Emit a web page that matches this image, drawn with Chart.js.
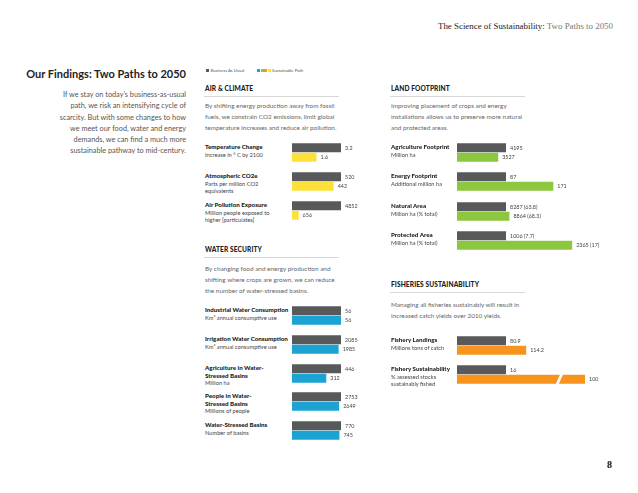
<!DOCTYPE html>
<html>
<head>
<meta charset="utf-8">
<script src="https://cdn.jsdelivr.net/npm/chart.js@4.4.1/dist/chart.umd.min.js"></script>
<style>
  html, body { margin: 0; padding: 0; background: #fff; }
  #page { position: relative; width: 638px; height: 493px; overflow: hidden; font-family: Lato, "Open Sans", sans-serif; color: #333; }
  .t { position: absolute; white-space: nowrap; }
  .hdr { font-family: "Liberation Serif", "DejaVu Serif", serif; font-size: 8.9px; right: 25px; top: 21px; color: #222; }
  .hdr span { color: #777; }
  .title { font-size: 11px; font-weight: 700; right: 452px; top: 67px; color: #222; }
  .intro { right: 452px; top: 89px; text-align: right; font-size: 7.3px; line-height: 11.3px; color: #555; }
  .sec { font-size: 6.6px; font-weight: 900; color: #222; letter-spacing: 0.1px; }
  .rule { position: absolute; height: 0; border-top: 0.6px solid #d8d8d8; }
  .desc { font-size: 6.4px; line-height: 11px; color: #666; }
  .lab { font-size: 5.7px; line-height: 7.7px; color: #444; }
  .lab b { color: #222; font-weight: 900; font-size: 6.2px; }
  .legend { font-size: 4.3px; color: #555; top: 68px; }
  .sq { display: inline-block; width: 3px; height: 3px; margin-right: 0.5px; vertical-align: 0px; }
  .pg { font-family: "Liberation Serif", serif; font-weight: 700; font-size: 10px; left: 607px; top: 459px; color: #111; }
  .box { position: absolute; }
</style>
</head>
<body>
<div id="page">
  <div class="t hdr">The Science of Sustainability: <span>Two Paths to 2050</span></div>
  <div class="t title">Our Findings: Two Paths to 2050</div>
  <div class="t intro">If we stay on today’s business-as-usual<br>path, we risk an intensifying cycle of<br>scarcity. But with some changes to how<br>we meet our food, water and energy<br>demands, we can find a much more<br>sustainable pathway to mid-century.</div>

  <div class="t legend" style="left:206px;"><span class="sq" style="background:#58595b"></span> Business As Usual</div>
  <div class="t legend" style="left:257px;"><span class="sq" style="background:#1ba4d3"></span><span class="sq" style="background:#8dc63f"></span><span class="sq" style="background:#f7941d"></span><span class="sq" style="background:#fde13a"></span> Sustainable Path</div>

  <div class="t sec" style="left:205px; top:84px;">AIR &amp; CLIMATE</div>
  <div class="rule" style="left:204px; top:96px; width:135px;"></div>
  <div class="t desc" style="left:205px; top:100px;">By shifting energy production away from fossil<br>fuels, we constrain CO2 emissions, limit global<br>temperature increases and reduce air pollution.</div>

  <div class="t sec" style="left:205px; top:245px;">WATER SECURITY</div>
  <div class="rule" style="left:204px; top:257px; width:135px;"></div>
  <div class="t desc" style="left:205px; top:263px;">By changing food and energy production and<br>shifting where crops are grown, we can reduce<br>the number of water-stressed basins.</div>

  <div class="t sec" style="left:391px; top:84px;">LAND FOOTPRINT</div>
  <div class="rule" style="left:390px; top:96px; width:135px;"></div>
  <div class="t desc" style="left:391px; top:100px;">Improving placement of crops and energy<br>installations allows us to preserve more natural<br>and protected areas.</div>

  <div class="t sec" style="left:391px; top:280px;">FISHERIES SUSTAINABILITY</div>
  <div class="rule" style="left:390px; top:292px; width:135px;"></div>
  <div class="t desc" style="left:391px; top:299px;">Managing all fisheries sustainably will result in<br>increased catch yields over 2010 yields.</div>

  <div class="t pg">8</div>
</div>
<script>
// Air & Climate
const airCategories = [['Temperature Change'], ['Atmospheric CO2e'], ['Air Pollution Exposure']];
const airUnits = [['Increase in ° C by 2100'], ['Parts per million CO2', 'equivalents'], ['Million people exposed to', 'higher [particulates]']];
const airBAU = [3.2, 520, 4852];
const airSustainable = [1.6, 442, 656];

// Water security
const waterCategories = [['Industrial Water Consumption'], ['Irrigation Water Consumption'], ['Agriculture in Water-', 'Stressed Basins'], ['People in Water-', 'Stressed Basins'], ['Water-Stressed Basins']];
const waterUnits = [['Km³ annual consumptive use'], ['Km³ annual consumptive use'], ['Million ha'], ['Millions of people'], ['Number of basins']];
const waterBAU = [56, 2085, 446, 2753, 770];
const waterSustainable = [56, 1985, 312, 2649, 745];

// Land footprint
const landCategories = [['Agriculture Footprint'], ['Energy Footprint'], ['Natural Area'], ['Protected Area']];
const landUnits = [['Million ha'], ['Additional million ha'], ['Million ha (% total)'], ['Million ha (% total)']];
const landBAU = [4195, 87, 8287, 1006];
const landSustainable = [3527, 171, 8864, 2365];
const landBAUShare = [null, null, 63.8, 7.7];
const landSustainableShare = [null, null, 68.3, 17];

// Fisheries
const fishCategories = [['Fishery Landings'], ['Fishery Sustainability']];
const fishUnits = [['Millions tons of catch'], ['% assessed stocks', 'sustainably fished']];
const fishBAU = [80.9, 16];
const fishSustainable = [114.2, 100];

const BAU_COLOR = '#58595b';
const BAU_PX = 49; // every business-as-usual bar is drawn this long

const page = document.getElementById('page');

const valueLabels = {
  id: 'valueLabels',
  afterDatasetsDraw(chart, args, opts) {
    const ctx = chart.ctx;
    const area = chart.chartArea;
    const meta = chart.getDatasetMeta(0);
    ctx.save();
    // break mark for bars that run past the plot
    meta.data.forEach((bar, i) => {
      if (bar.x > area.right + 1) {
        const bx = area.left + (area.right - area.left) * 0.8;
        const h = bar.height / 2;
        ctx.fillStyle = '#fff';
        ctx.beginPath();
        ctx.moveTo(bx - 4, bar.y + h + 1);
        ctx.lineTo(bx - 1, bar.y + h + 1);
        ctx.lineTo(bx + 4, bar.y - h - 1);
        ctx.lineTo(bx + 1, bar.y - h - 1);
        ctx.closePath();
        ctx.fill();
      }
    });
    ctx.font = '5.4px Lato';
    ctx.fillStyle = '#444';
    ctx.textBaseline = 'middle';
    meta.data.forEach((bar, i) => {
      const x = Math.min(bar.x, area.right) + 4;
      ctx.fillText(opts.texts[i], x, bar.y + 0.5);
    });
    ctx.restore();
  }
};

const fmtShare = (v, s) => s == null ? String(v) : `${v} (${s})`;

function addLabel(x, y, names, units) {
  const d = document.createElement('div');
  d.className = 't lab';
  d.style.left = x + 'px';
  d.style.top = y + 'px';
  d.innerHTML = names.map(n => `<b>${n}</b>`).join('<br>') + '<br>' + units.join('<br>');
  page.appendChild(d);
}

function pairChart(x, y, bau, sus, color, areaW, texts) {
  const box = document.createElement('div');
  box.className = 'box';
  const padRight = 60;
  box.style.left = x + 'px';
  box.style.top = y + 'px';
  box.style.width = (areaW + padRight) + 'px';
  box.style.height = '19px';
  const canvas = document.createElement('canvas');
  box.appendChild(canvas);
  page.appendChild(box);

  new Chart(canvas.getContext('2d'), {
    type: 'bar',
    data: {
      labels: ['Business As Usual', 'Sustainable Path'],
      datasets: [{
        data: [bau, sus],
        backgroundColor: [BAU_COLOR, color],
        borderWidth: 0,
        barPercentage: 0.94,
        categoryPercentage: 1,
        clip: 0
      }]
    },
    options: {
      indexAxis: 'y',
      responsive: true,
      maintainAspectRatio: false,
      animation: false,
      layout: { padding: { left: 0, right: padRight, top: 0, bottom: 0 } },
      scales: {
        x: { display: false, min: 0, max: bau * areaW / BAU_PX },
        y: { display: false }
      },
      plugins: {
        legend: { display: false },
        tooltip: { enabled: false },
        valueLabels: { texts }
      }
    },
    plugins: [valueLabels]
  });
}

const airTops = [143, 172, 201];
airBAU.forEach((v, i) => {
  addLabel(205, airTops[i], airCategories[i], airUnits[i]);
  pairChart(292, airTops[i], v, airSustainable[i], '#fde13a', 60, [String(v), String(airSustainable[i])]);
});

const waterTops = [306, 335, 364, 392, 421];
waterBAU.forEach((v, i) => {
  addLabel(205, waterTops[i], waterCategories[i], waterUnits[i]);
  pairChart(292, waterTops[i], v, waterSustainable[i], '#1ba4d3', 60, [String(v), String(waterSustainable[i])]);
});

const landTops = [143, 172, 202, 231];
landBAU.forEach((v, i) => {
  addLabel(391, landTops[i], landCategories[i], landUnits[i]);
  pairChart(457, landTops[i], v, landSustainable[i], '#8dc63f', 128,
    [fmtShare(v, landBAUShare[i]), fmtShare(landSustainable[i], landSustainableShare[i])]);
});

const fishTops = [336, 365];
fishBAU.forEach((v, i) => {
  addLabel(391, fishTops[i], fishCategories[i], fishUnits[i]);
  pairChart(457, fishTops[i], v, fishSustainable[i], '#f7941d', 128, [String(v), String(fishSustainable[i])]);
});
</script>
</body>
</html>
